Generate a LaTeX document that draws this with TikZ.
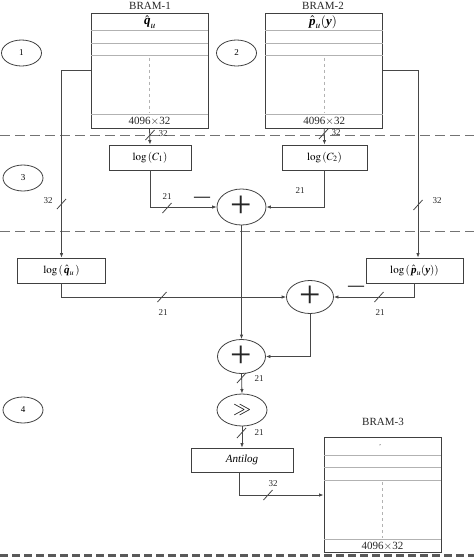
\documentclass[tikz,border=0pt]{standalone}
\usepackage{mathptmx}
\usepackage{amsmath}
\usepackage{fontspec}
\setmainfont{Liberation Serif}
\usetikzlibrary{shapes.geometric,arrows.meta,calc}
\newcommand\bi[1]{\text{\bfseries\itshape #1}}
\newcommand\slashmark[1]{\draw[conn] ($(#1)+(-4.5,5)$) -- ($(#1)+(4.5,-5)$);}
\newcommand\bramrows[1]{%
  \draw[rowline] ($(#1.north west)+(0,18)$) -- ($(#1.north east)+(0,18)$);
  \draw[rowline] ($(#1.north west)+(0,30.5)$) -- ($(#1.north east)+(0,30.5)$);
  \draw[rowline] ($(#1.north west)+(0,43)$) -- ($(#1.north east)+(0,43)$);
  \draw[rowline] ($(#1.south west)+(0,-14)$) -- ($(#1.south east)+(0,-14)$);
  \draw[rowline,dashed] ($(#1.north)+(0,45)$) -- ($(#1.south)+(0,-15)$);}
\begin{document}
\begin{tikzpicture}[x=1pt,y=-1pt,
  conn/.style={draw=black!72, line width=0.8pt},
  arr/.style={conn, -{Latex[length=4.5pt,width=3.5pt]}},
  bram/.style={draw=black!75, line width=0.9pt, rectangle, inner sep=0pt, minimum width=117pt, minimum height=115pt},
  rowline/.style={draw=black!30, line width=0.7pt},
  fbox/.style={draw=black!75, line width=0.8pt, rectangle, inner sep=0pt, minimum height=25pt, font=\fontsize{11}{11}\selectfont},
  oval/.style={ellipse, draw=black!75, line width=0.8pt, inner sep=0pt, minimum width=40pt, minimum height=26pt, font=\fontsize{9}{9}\selectfont},
  opnode/.style={ellipse, draw=black!75, line width=0.8pt, inner sep=0pt},
  plussym/.style={inner sep=0pt, font=\fontsize{38}{38}\selectfont, text=black!85},
  lbl/.style={inner sep=0pt, font=\fontsize{9}{9}\selectfont, text=black!85},
  title/.style={inner sep=0pt, font=\fontsize{11}{11}\selectfont, text=black!85},
  minus/.style={inner sep=0pt, font=\fontsize{16}{16}\selectfont\bfseries, text=black!85},
  sep/.style={draw=black!55, line width=1.2pt, dash pattern=on 10pt off 5pt},
  sepbottom/.style={draw=black!65, line width=2.6pt, dash pattern=on 8pt off 4pt}]
\useasboundingbox (0,0) rectangle (474,557);

% separators
\draw[sep] (0,135.7) -- (474,135.7);
\draw[sep] (0,231.7) -- (474,231.7);
\draw[sepbottom] (0,555.5) -- (474,555.5);

% stage ovals
\node[oval] (s1) at (21.5,53) {1};
\node[oval] (s2) at (236.5,53) {2};
\node[oval] (s3) at (23,178) {3};
\node[oval] (s4) at (23,410) {4};

% BRAMs
\node[bram] (bram1) at (149.5,70.5) {};
\node[bram] (bram2) at (324.25,70.5) {};
\node[bram] (bram3) at (382.5,495) {};
\bramrows{bram1}
\bramrows{bram2}
\bramrows{bram3}
\node[title] (t1) at (150,6) {BRAM-1};
\node[title] (t2) at (323,6) {BRAM-2};
\node[title] (t3) at (383,422) {BRAM-3};
\node[inner sep=0pt, font=\fontsize{13}{13}\selectfont] (h1) at (150,22) {$\hat{\bi{q}}_u$};
\node[inner sep=0pt, font=\fontsize{13}{13}\selectfont] (h2) at (323,22) {$\hat{\bi{p}}_u(\bi{y})$};
\node[title] (d1) at (149.5,121) {4096$\times$32};
\node[title] (d2) at (324.25,121) {4096$\times$32};
\node[title] (d3) at (382.5,546) {4096$\times$32};
\node[inner sep=0pt, font=\fontsize{6}{6}\selectfont] (tick) at (380,446) {'};

% function boxes
\node[fbox, minimum width=82pt] (logC1) at (150,157.5) {$\log\,(C_1)$};
\node[fbox, minimum width=85pt] (logC2) at (324.5,157.5) {$\log\,(C_2)$};
\node[fbox, minimum width=88pt] (logq) at (61.5,270.5) {$\log\,(\,\hat{\bi{q}}_u\,)$};
\node[fbox, minimum width=97pt] (logp) at (414.5,270.5) {$\log\,(\,\hat{\bi{p}}_u(\bi{y}))$};
\node[fbox, minimum width=102pt, minimum height=24pt] (antilog) at (242,460) {\itshape Antilog};

% operators
\node[opnode, minimum width=49pt, minimum height=36pt] (plus1) at (241.5,207) {};
\node[opnode, minimum width=47pt, minimum height=33pt] (plus2) at (310,297) {};
\node[opnode, minimum width=48pt, minimum height=34pt] (plus3) at (241.5,356.5) {};
\node[opnode, minimum width=50pt, minimum height=32pt] (shift) at (242,410) {};
\node[plussym] at (plus1) {+};
\node[plussym] at (plus2) {+};
\node[plussym] at (plus3) {+};
\node[inner sep=0pt, font=\fontsize{18}{18}\selectfont] at (shift) {$\gg$};

% connectors
\draw[arr] (bram1.south) -- (logC1.north);
\draw[arr] (bram2.south) -- (logC2.north);
\draw[arr] (logC1.south) |- (plus1.west);
\draw[arr] (logC2.south) |- (plus1.east);
\draw[arr] (bram1.west) -| (logq.north);
\draw[arr] (bram2.east) -| ([xshift=3.5pt]logp.north);
\draw[arr] (plus1.south) -- (plus3.north);
\draw[arr] (logq.south) |- (plus2.west);
\draw[arr] (logp.south) |- (plus2.east);
\draw[arr] (plus2.south) |- (plus3.east);
\draw[arr] (plus3.south) -- (shift.north);
\draw[arr] (shift.south) -- (antilog.north);
\draw[arr] ([xshift=-3pt]antilog.south) |- (bram3.west);

% bus-width marks
\slashmark{150,135}
\slashmark{323.5,134}
\slashmark{167,208}
\slashmark{61.5,204}
\slashmark{418,205}
\slashmark{162,297}
\slashmark{379,297}
\slashmark{241.5,378}
\slashmark{241.5,433}
\slashmark{268,495}
\node[lbl] at (163,134) {32};
\node[lbl] at (336,133) {32};
\node[lbl] at (167,197) {21};
\node[lbl] at (300,191) {21};
\node[lbl] at (48,201) {32};
\node[lbl] at (437,201) {32};
\node[lbl] at (163,313) {21};
\node[lbl] at (380,313) {21};
\node[lbl] at (259,379) {21};
\node[lbl] at (259,433) {21};
\node[lbl] at (273,484) {32};

% minus signs
\node[minus] at (202,199) {—};
\node[minus] at (356,288) {—};
\end{tikzpicture}
\end{document}
